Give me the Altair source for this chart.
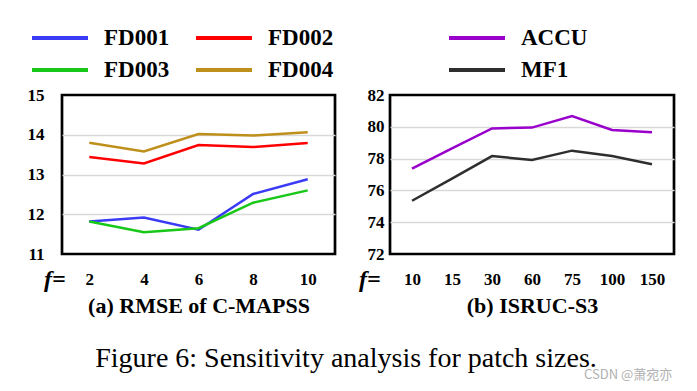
import altair as alt
import pandas as pd

# ---- data: (a) RMSE of C-MAPSS ----
f_cmapss = ["2", "4", "6", "8", "10"]
fd001 = [11.82, 11.92, 11.61, 12.51, 12.88]
fd002 = [13.44, 13.28, 13.74, 13.69, 13.79]
fd003 = [11.82, 11.55, 11.65, 12.29, 12.60]
fd004 = [13.80, 13.58, 14.02, 13.98, 14.06]
cm_series = ["FD001", "FD002", "FD003", "FD004"]
cm_colors = ["#3b3bf5", "#ff0000", "#18c818", "#bf8f1c"]

# ---- data: (b) ISRUC-S3 ----
f_isruc = ["10", "15", "30", "60", "75", "100", "150"]
accu = [77.37, 78.65, 79.90, 79.95, 80.68, 79.80, 79.65]
mf1 = [75.35, 76.74, 78.16, 77.91, 78.50, 78.16, 77.64]
is_series = ["ACCU", "MF1"]
is_colors = ["#9900cc", "#2e2e2e"]

caption = "Figure 6: Sensitivity analysis for patch sizes."
watermark = "CSDN @萧宛亦"

FONT = "Liberation Serif"

rows = []
for name, vals in zip(cm_series, [fd001, fd002, fd003, fd004]):
    for f, v in zip(f_cmapss, vals):
        rows.append({"f": f, "value": v, "series": name})
df_a = pd.DataFrame(rows)

rows = []
for name, vals in zip(is_series, [accu, mf1]):
    for f, v in zip(f_isruc, vals):
        rows.append({"f": f, "value": v, "series": name})
df_b = pd.DataFrame(rows)


def legend(x, y, cols, direction):
    return alt.Legend(
        title=None, orient="none", legendX=x, legendY=y, columns=cols,
        direction=direction,
        symbolType="M-2,0H2", symbolSize=784, symbolStrokeWidth=4,
        labelFont=FONT, labelFontSize=23, labelFontWeight="bold",
        labelColor="black", labelOffset=28, rowPadding=4, columnPadding=18,
        labelLimit=200,
    )


def xaxis(title):
    return alt.Axis(
        title=title, labelAngle=0, labelFont=FONT, labelFontSize=17,
        labelFontWeight="bold", labelColor="black", labelPadding=17,
        ticks=False, tickSize=0, domain=False, grid=False,
        titleFont=FONT, titleFontSize=22, titleFontWeight="bold",
        titleColor="black", titlePadding=8,
    )


def yaxis(vals, pad, lo, hi):
    return alt.Axis(
        title=None, values=vals, labelFont=FONT, labelFontSize=17,
        labelFontWeight="bold", labelColor="black", labelPadding=pad,
        ticks=False, tickSize=0, domain=False, grid=True,
        gridColor="#d9d9d9", gridWidth=1.5,
        gridOpacity={"condition": {"test": f"datum.value == {lo} || datum.value == {hi}",
                                   "value": 0}, "value": 1},
    )


border = alt.ViewBackground(stroke="black", strokeWidth=2.7)

lines_a = alt.Chart(df_a).mark_line(strokeWidth=2.5).encode(
    x=alt.X("f:O", sort=f_cmapss, axis=xaxis("(a) RMSE of C-MAPSS"),
            scale=alt.Scale(type="point", padding=0.5)),
    y=alt.Y("value:Q", scale=alt.Scale(domain=[11, 15], nice=False, zero=False),
            axis=yaxis([11, 12, 13, 14, 15], 18, 11, 15)),
    color=alt.Color("series:N", scale=alt.Scale(domain=cm_series, range=cm_colors),
                    legend=legend(-18, -73, 2, "horizontal")),
)
ftext_a = alt.Chart(pd.DataFrame({"t": ["f="]})).mark_text(
    font=FONT, fontSize=24, fontWeight="bold", fontStyle="italic",
    align="left", baseline="middle", color="black",
).encode(x=alt.value(-18), y=alt.value(185), text="t:N")
left = alt.layer(lines_a, ftext_a).properties(width=273, height=159, view=border)

lines_b = alt.Chart(df_b).mark_line(strokeWidth=2.5).encode(
    x=alt.X("f:O", sort=f_isruc, axis=xaxis("(b) ISRUC-S3"),
            scale=alt.Scale(type="point", padding=0.55)),
    y=alt.Y("value:Q", scale=alt.Scale(domain=[72, 82], nice=False, zero=False),
            axis=yaxis([72, 74, 76, 78, 80, 82], 6, 72, 82)),
    color=alt.Color("series:N", scale=alt.Scale(domain=is_series, range=is_colors),
                    legend=legend(71, -73, 1, "vertical")),
)
ftext_b = alt.Chart(pd.DataFrame({"t": ["f="]})).mark_text(
    font=FONT, fontSize=24, fontWeight="bold", fontStyle="italic",
    align="left", baseline="middle", color="black",
).encode(x=alt.value(-31), y=alt.value(185), text="t:N")
right = alt.layer(lines_b, ftext_b).properties(width=284, height=159, view=border)

top = alt.hconcat(left, right, spacing=55, bounds="flush").resolve_scale(
    color="independent", x="independent", y="independent"
)

cap = alt.Chart(pd.DataFrame({"t": [caption]})).mark_text(
    font=FONT, fontSize=28, fontWeight="normal", align="center",
    baseline="middle", color="black",
).encode(x=alt.value(284), y=alt.value(45), text="t:N")
wm = alt.Chart(pd.DataFrame({"t": [watermark]})).mark_text(
    font="Noto Sans CJK SC", fontSize=13, align="left", baseline="middle",
    color="#b0b0b0",
).encode(x=alt.value(522), y=alt.value(61), text="t:N")
bottom = alt.layer(cap, wm).properties(
    width=612, height=70, view=alt.ViewBackground(strokeWidth=0, stroke="transparent")
)

chart = alt.vconcat(top, bottom, spacing=219, bounds="flush").properties(
    padding={"left": 17, "top": 12, "right": 5, "bottom": 5},
    background="white",
).configure_view(strokeWidth=0)

chart.save("out.html", embed_options={"renderer": "svg", "actions": False})
